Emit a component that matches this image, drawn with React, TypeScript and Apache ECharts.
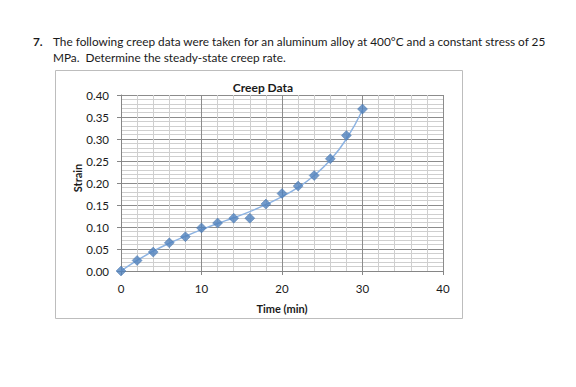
import React, { useEffect, useRef } from "react";
import * as echarts from "echarts";

const timeMin = [0, 2, 4, 6, 8, 10, 12, 14, 16, 18, 20, 22, 24, 26, 28, 30];
const strain = [0, 0.024, 0.043, 0.064, 0.078, 0.098, 0.109, 0.12, 0.12, 0.152, 0.176, 0.193, 0.217, 0.255, 0.308, 0.368];
const trendStrain = [0, 0.024, 0.045, 0.063, 0.079, 0.094, 0.108, 0.121, 0.135, 0.151, 0.169, 0.19, 0.217, 0.252, 0.3, 0.366];
const questionLine1 = "The following creep data were taken for an aluminum alloy at 400°C and a constant stress of 25";
const questionLine2 = "MPa.  Determine the steady-state creep rate.";

const FONT = "Lato, 'Open Sans', sans-serif";

export default function App() {
  const ref = useRef<HTMLDivElement>(null);
  useEffect(() => {
    if (!ref.current) return;
    const chart = echarts.init(ref.current, null, { renderer: "svg" });
    chart.setOption({
      animation: false,
      backgroundColor: "#ffffff",
      title: {
        text: "Creep Data",
        left: 258,
        top: 76,
        textAlign: "center",
        textStyle: { fontFamily: FONT, fontSize: 12, fontWeight: "bold", color: "#1a1a1a" },
      },
      graphic: [
        { type: "rect", shape: { x: 55.5, y: 70.5, width: 407, height: 248 }, style: { fill: "none", stroke: "#bdbdbd", lineWidth: 1 }, z: -1 },
        { type: "text", x: 33, y: 41, style: { text: "7.", font: `bold 11.8px ${FONT}`, fill: "#1a1a1a", textVerticalAlign: "middle" } },
        { type: "text", x: 53, y: 41, style: { text: questionLine1, font: `11.8px ${FONT}`, fill: "#1a1a1a", textVerticalAlign: "middle" } },
        { type: "text", x: 53, y: 57, style: { text: questionLine2, font: `11.8px ${FONT}`, fill: "#1a1a1a", textVerticalAlign: "middle" } },
        { type: "text", x: 77, y: 178, rotation: Math.PI / 2, style: { text: "Strain", font: `bold 11px ${FONT}`, fill: "#1a1a1a", textAlign: "center", textVerticalAlign: "middle" } },
      ],
      grid: { left: 121, top: 95, right: 133, bottom: 116, containLabel: false },
      xAxis: {
        type: "value",
        min: 0,
        max: 40,
        interval: 10,
        name: "Time (min)",
        nameLocation: "middle",
        nameGap: 32,
        nameTextStyle: { fontFamily: FONT, fontSize: 11, fontWeight: "bold", color: "#1a1a1a" },
        axisLine: { show: true, lineStyle: { color: "#868686", width: 1 } },
        axisTick: { show: true, inside: false, length: 4, lineStyle: { color: "#868686" } },
        axisLabel: { fontFamily: FONT, fontSize: 11.5, color: "#1a1a1a", margin: 11 },
        splitLine: { show: true, lineStyle: { color: "#8c8c8c", width: 1 } },
        minorTick: { show: false, splitNumber: 5 },
        minorSplitLine: { show: true, lineStyle: { color: "#cfcfcf", width: 1 } },
      },
      yAxis: {
        type: "value",
        min: 0,
        max: 0.4,
        interval: 0.05,
        axisLine: { show: true, lineStyle: { color: "#868686", width: 1 } },
        axisTick: { show: true, inside: false, length: 4, lineStyle: { color: "#868686" } },
        axisLabel: { fontFamily: FONT, fontSize: 11.5, color: "#1a1a1a", margin: 12, formatter: (v: number) => v.toFixed(2) },
        splitLine: { show: true, lineStyle: { color: "#8c8c8c", width: 1 } },
        minorTick: { show: false, splitNumber: 5 },
        minorSplitLine: { show: true, lineStyle: { color: "#cfcfcf", width: 1 } },
      },
      series: [
        {
          type: "line",
          name: "Trend",
          data: timeMin.map((t, i) => [t, trendStrain[i]]),
          smooth: true,
          showSymbol: false,
          lineStyle: { color: "#8db3e2", width: 1.5 },
          z: 2,
        },
        {
          type: "scatter",
          name: "Strain",
          data: timeMin.map((t, i) => [t, strain[i]]),
          symbol: "diamond",
          symbolSize: 10,
          itemStyle: { color: "#4f81bd", borderColor: "#3f6fa8", borderWidth: 0.5 },
          z: 3,
        },
      ],
    });
    return () => chart.dispose();
  }, []);
  return (
    <div
      ref={ref}
      style={{ position: "absolute", left: 0, top: 0, width: 576, height: 387 }}
    />
  );
}
